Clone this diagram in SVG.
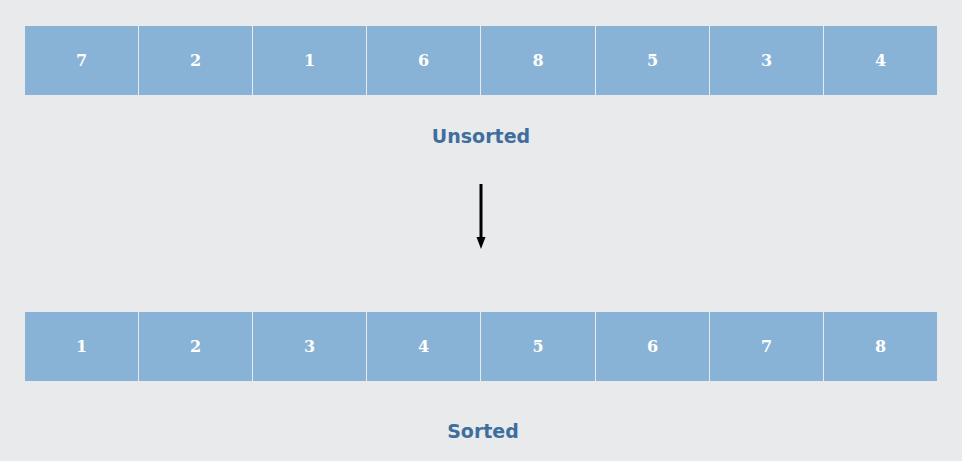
<svg xmlns="http://www.w3.org/2000/svg" width="962" height="461" viewBox="0 0 962 461">
<style>
.c{fill:#88b3d6}
.n{fill:#fff;font-family:"DejaVu Serif",serif;font-weight:bold;font-size:16px;text-anchor:middle}
.l{fill:#3e6e9e;font-family:"DejaVu Sans",sans-serif;font-weight:bold;font-size:19px;text-anchor:middle}
</style>
<defs><marker id="a" markerWidth="4" markerHeight="4" refX="2" refY="2" orient="auto" markerUnits="strokeWidth"><path d="M0,0.5 L4,2 L0,3.5 Z" fill="#000"/></marker></defs>
<rect width="962" height="461" fill="#e9eaec"/>
<g id="top">
<rect class="c" x="25" y="26" width="113" height="69"/><text class="n" x="81.5" y="66">7</text>
<rect class="c" x="139" y="26" width="113" height="69"/><text class="n" x="195.5" y="66">2</text>
<rect class="c" x="253" y="26" width="113" height="69"/><text class="n" x="309.5" y="66">1</text>
<rect class="c" x="367" y="26" width="113" height="69"/><text class="n" x="423.5" y="66">6</text>
<rect class="c" x="481" y="26" width="114" height="69"/><text class="n" x="538" y="66">8</text>
<rect class="c" x="596" y="26" width="113" height="69"/><text class="n" x="652.5" y="66">5</text>
<rect class="c" x="710" y="26" width="113" height="69"/><text class="n" x="766.5" y="66">3</text>
<rect class="c" x="824" y="26" width="113" height="69"/><text class="n" x="880.5" y="66">4</text>
</g>
<g id="bottom">
<rect class="c" x="25" y="312" width="113" height="69"/><text class="n" x="81.5" y="352">1</text>
<rect class="c" x="139" y="312" width="113" height="69"/><text class="n" x="195.5" y="352">2</text>
<rect class="c" x="253" y="312" width="113" height="69"/><text class="n" x="309.5" y="352">3</text>
<rect class="c" x="367" y="312" width="113" height="69"/><text class="n" x="423.5" y="352">4</text>
<rect class="c" x="481" y="312" width="114" height="69"/><text class="n" x="538" y="352">5</text>
<rect class="c" x="596" y="312" width="113" height="69"/><text class="n" x="652.5" y="352">6</text>
<rect class="c" x="710" y="312" width="113" height="69"/><text class="n" x="766.5" y="352">7</text>
<rect class="c" x="824" y="312" width="113" height="69"/><text class="n" x="880.5" y="352">8</text>
</g>
<g id="labels">
<text class="l" x="481" y="143">Unsorted</text>
<text class="l" x="483" y="438">Sorted</text>
</g>
<g id="connectors">
<line x1="481" y1="184" x2="481" y2="243" stroke="#000" stroke-width="3" marker-end="url(#a)"/>
</g>
</svg>
